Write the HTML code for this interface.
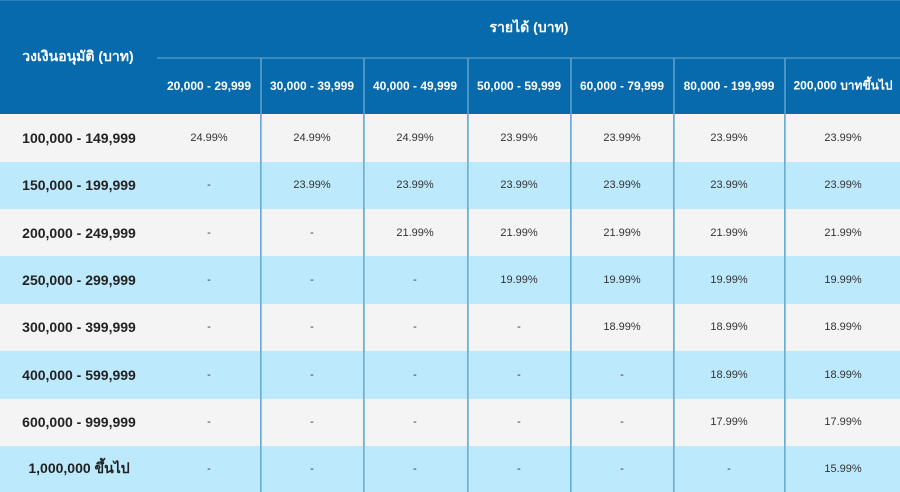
<!DOCTYPE html>
<html><head><meta charset="utf-8">
<style>
*{margin:0;padding:0;box-sizing:border-box}
body{width:900px;height:492px;overflow:hidden;background:#f4f4f4;position:relative;font-family:"Liberation Sans","Noto Sans CJK SC",sans-serif}
.hdr{position:absolute;left:0;top:0;width:900px;height:114px;background:#066aac;border-top:1px solid #2a82bd}
.hl{position:absolute;left:157px;top:57px;width:743px;height:2px;background:#3a8cc0}
.t{position:absolute;text-align:center;white-space:nowrap;transform:translate(-50%,-50%)}
.h{color:#fff;font-weight:bold;font-size:12px}
.h2{color:#fff;font-weight:bold;font-size:14px}
.row{position:absolute;left:0;width:900px}
.g{background:#f4f4f4}
.b{background:#bde9fc}
.vl{position:absolute;width:2px;background:#88c4e0;border-left:1px solid #6aaed2}
.vh{position:absolute;width:2px;top:58px;height:56px;background:#4a96c6}
.lab{color:#222;font-weight:bold;font-size:14px}
.d{color:#333;font-size:11px}
</style></head><body>
<div class="hdr"></div>
<div class="hl"></div>
<div class="t h2" style="left:78px;top:57px">วงเงินอนุมัติ (บาท)</div>
<div class="t h2" style="left:529px;top:28px">รายได้ (บาท)</div>
<div class="t h" style="left:209px;top:86px">20,000 - 29,999</div>
<div class="t h" style="left:312px;top:86px">30,000 - 39,999</div>
<div class="t h" style="left:415px;top:86px">40,000 - 49,999</div>
<div class="t h" style="left:519px;top:86px">50,000 - 59,999</div>
<div class="t h" style="left:622px;top:86px">60,000 - 79,999</div>
<div class="t h" style="left:729px;top:86px">80,000 - 199,999</div>
<div class="t h" style="left:843px;top:86px">200,000 บาทขึ้นไป</div>

<div class="row g" style="top:114px;height:47.5px"></div>
<div class="row b" style="top:161.5px;height:47.5px"></div>
<div class="row g" style="top:209px;height:47.3px"></div>
<div class="row b" style="top:256.3px;height:47.3px"></div>
<div class="row g" style="top:303.6px;height:47.4px"></div>
<div class="row b" style="top:351px;height:47.5px"></div>
<div class="row g" style="top:398.5px;height:47.5px"></div>
<div class="row b" style="top:446px;height:46px"></div>

<div class="vh" style="left:260px"></div>
<div class="vh" style="left:363px"></div>
<div class="vh" style="left:467px"></div>
<div class="vh" style="left:570px"></div>
<div class="vh" style="left:673px"></div>
<div class="vh" style="left:784px"></div>
<div class="vl" style="left:260px;top:114px;height:378px"></div>
<div class="vl" style="left:363px;top:114px;height:378px"></div>
<div class="vl" style="left:467px;top:114px;height:378px"></div>
<div class="vl" style="left:570px;top:114px;height:378px"></div>
<div class="vl" style="left:673px;top:114px;height:378px"></div>
<div class="vl" style="left:784px;top:114px;height:378px"></div>

<!-- row 1 -->
<div class="t lab" style="left:79px;top:138px">100,000 - 149,999</div>
<div class="t d" style="left:209px;top:138px">24.99%</div>
<div class="t d" style="left:312px;top:138px">24.99%</div>
<div class="t d" style="left:415px;top:138px">24.99%</div>
<div class="t d" style="left:519px;top:138px">23.99%</div>
<div class="t d" style="left:622px;top:138px">23.99%</div>
<div class="t d" style="left:729px;top:138px">23.99%</div>
<div class="t d" style="left:843px;top:138px">23.99%</div>
<!-- row 2 -->
<div class="t lab" style="left:79px;top:185px">150,000 - 199,999</div>
<div class="t d" style="left:209px;top:185px">-</div>
<div class="t d" style="left:312px;top:185px">23.99%</div>
<div class="t d" style="left:415px;top:185px">23.99%</div>
<div class="t d" style="left:519px;top:185px">23.99%</div>
<div class="t d" style="left:622px;top:185px">23.99%</div>
<div class="t d" style="left:729px;top:185px">23.99%</div>
<div class="t d" style="left:843px;top:185px">23.99%</div>
<!-- row 3 -->
<div class="t lab" style="left:79px;top:232.5px">200,000 - 249,999</div>
<div class="t d" style="left:209px;top:232.5px">-</div>
<div class="t d" style="left:312px;top:232.5px">-</div>
<div class="t d" style="left:415px;top:232.5px">21.99%</div>
<div class="t d" style="left:519px;top:232.5px">21.99%</div>
<div class="t d" style="left:622px;top:232.5px">21.99%</div>
<div class="t d" style="left:729px;top:232.5px">21.99%</div>
<div class="t d" style="left:843px;top:232.5px">21.99%</div>
<!-- row 4 -->
<div class="t lab" style="left:79px;top:280px">250,000 - 299,999</div>
<div class="t d" style="left:209px;top:280px">-</div>
<div class="t d" style="left:312px;top:280px">-</div>
<div class="t d" style="left:415px;top:280px">-</div>
<div class="t d" style="left:519px;top:280px">19.99%</div>
<div class="t d" style="left:622px;top:280px">19.99%</div>
<div class="t d" style="left:729px;top:280px">19.99%</div>
<div class="t d" style="left:843px;top:280px">19.99%</div>
<!-- row 5 -->
<div class="t lab" style="left:79px;top:327px">300,000 - 399,999</div>
<div class="t d" style="left:209px;top:327px">-</div>
<div class="t d" style="left:312px;top:327px">-</div>
<div class="t d" style="left:415px;top:327px">-</div>
<div class="t d" style="left:519px;top:327px">-</div>
<div class="t d" style="left:622px;top:327px">18.99%</div>
<div class="t d" style="left:729px;top:327px">18.99%</div>
<div class="t d" style="left:843px;top:327px">18.99%</div>
<!-- row 6 -->
<div class="t lab" style="left:79px;top:375px">400,000 - 599,999</div>
<div class="t d" style="left:209px;top:375px">-</div>
<div class="t d" style="left:312px;top:375px">-</div>
<div class="t d" style="left:415px;top:375px">-</div>
<div class="t d" style="left:519px;top:375px">-</div>
<div class="t d" style="left:622px;top:375px">-</div>
<div class="t d" style="left:729px;top:375px">18.99%</div>
<div class="t d" style="left:843px;top:375px">18.99%</div>
<!-- row 7 -->
<div class="t lab" style="left:79px;top:422px">600,000 - 999,999</div>
<div class="t d" style="left:209px;top:422px">-</div>
<div class="t d" style="left:312px;top:422px">-</div>
<div class="t d" style="left:415px;top:422px">-</div>
<div class="t d" style="left:519px;top:422px">-</div>
<div class="t d" style="left:622px;top:422px">-</div>
<div class="t d" style="left:729px;top:422px">17.99%</div>
<div class="t d" style="left:843px;top:422px">17.99%</div>
<!-- row 8 -->
<div class="t lab" style="left:79px;top:469px">1,000,000 ขึ้นไป</div>
<div class="t d" style="left:209px;top:469px">-</div>
<div class="t d" style="left:312px;top:469px">-</div>
<div class="t d" style="left:415px;top:469px">-</div>
<div class="t d" style="left:519px;top:469px">-</div>
<div class="t d" style="left:622px;top:469px">-</div>
<div class="t d" style="left:729px;top:469px">-</div>
<div class="t d" style="left:843px;top:469px">15.99%</div>
</body></html>
